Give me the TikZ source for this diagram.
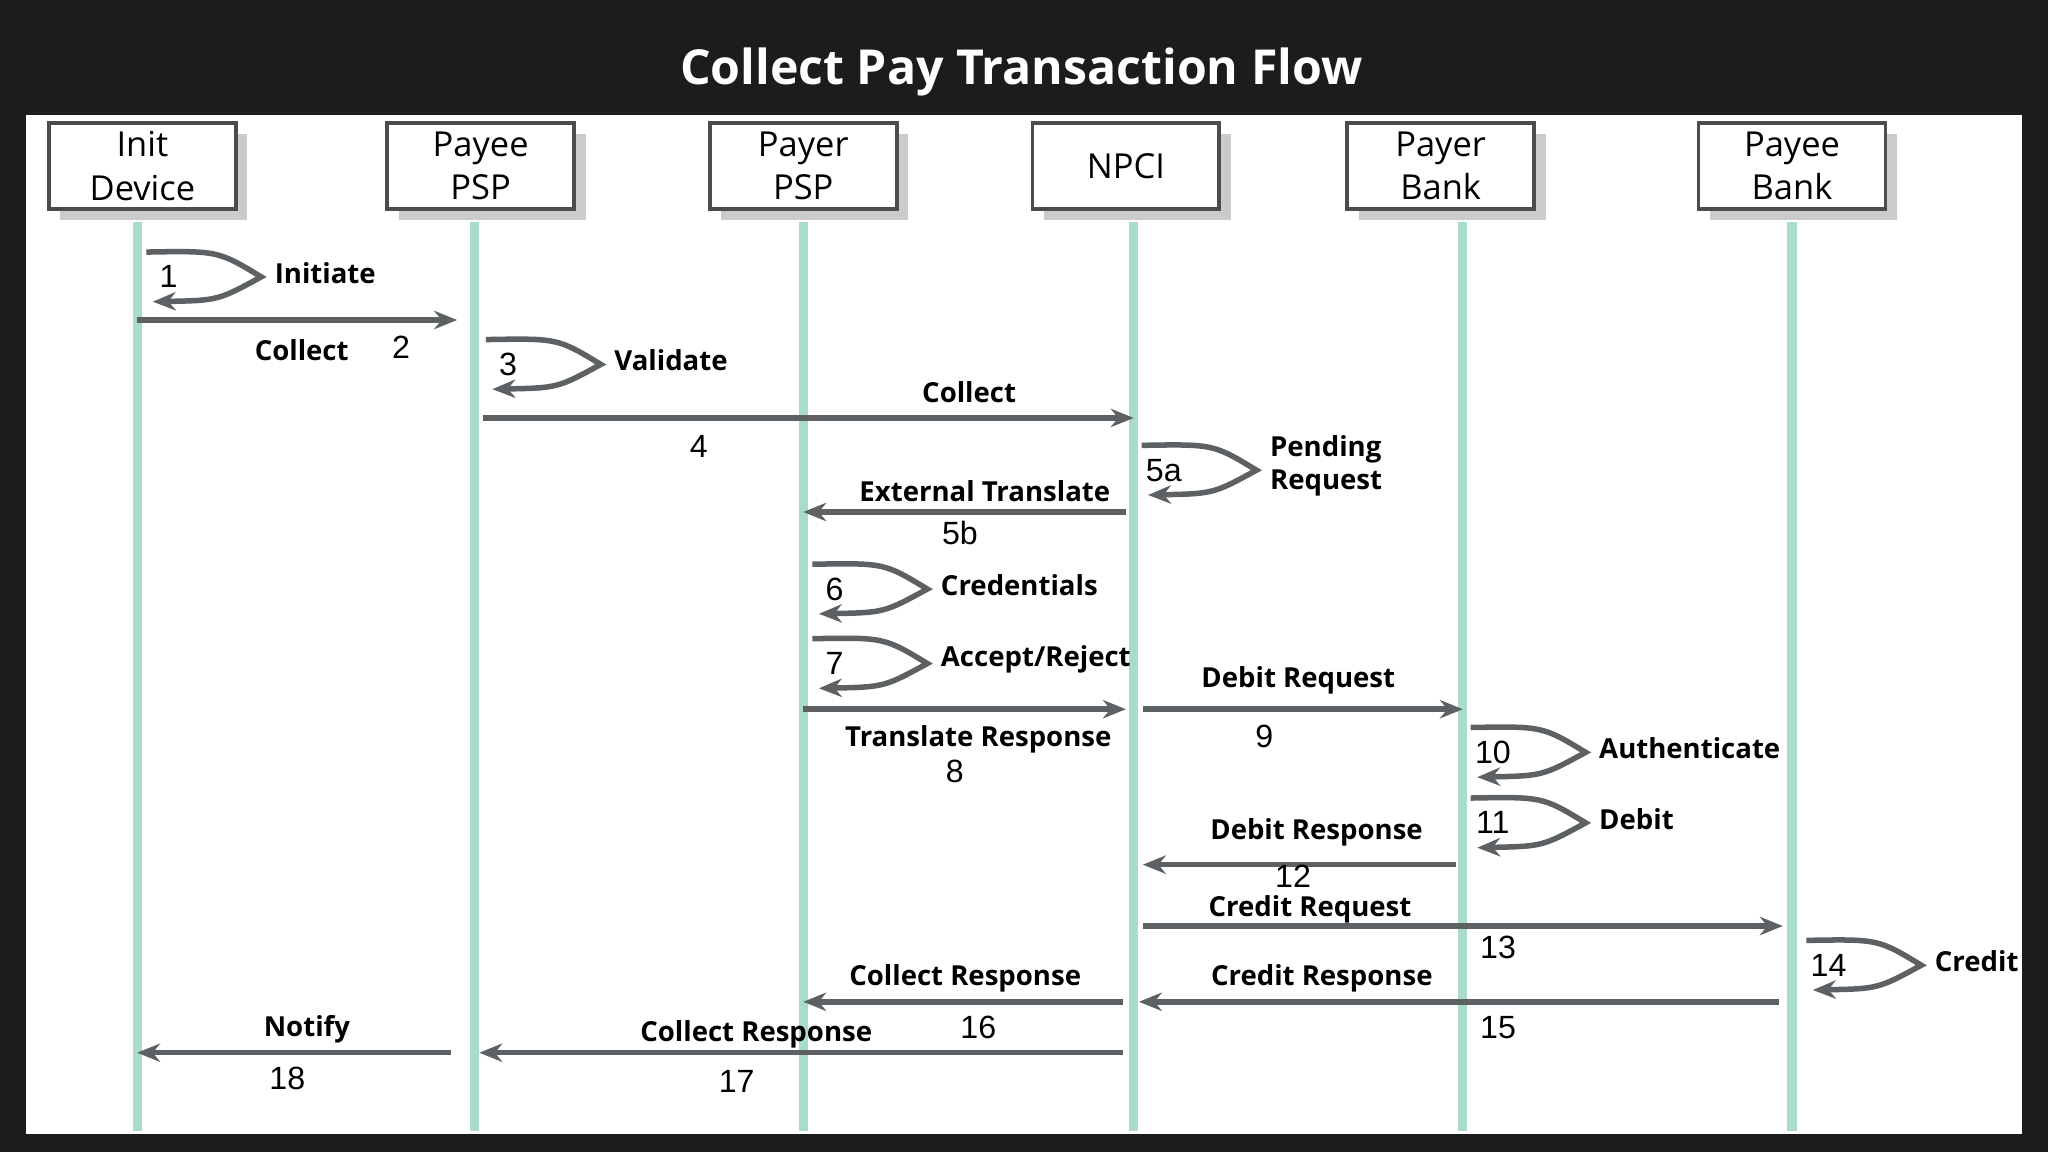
\documentclass[tikz,border=0pt]{standalone}
\usepackage{fontspec}
\setsansfont{Open Sans}
\newfontfamily\numfont{Liberation Sans}
\usetikzlibrary{arrows.meta,shadows}
\definecolor{board}{HTML}{1C1C1C}
\definecolor{life}{HTML}{A9DCC9}
\definecolor{arr}{HTML}{5E6163}
\tikzset{
  head/.style={draw=black!70,thick,fill=white,minimum width=1.43cm,minimum height=0.66cm,
    align=center,inner sep=1pt,font=\sffamily\fontsize{7.5}{9.5}\selectfont,
    drop shadow={shadow xshift=2.5pt,shadow yshift=-2.5pt,fill=black!25,opacity=.8}},
  msg/.style={arr,line width=1.2pt,-{Stealth[length=5pt,width=4pt]}},
  lbl/.style={font=\sffamily\bfseries\fontsize{6}{7.2}\selectfont,align=left},
  num/.style={font=\numfont\fontsize{7}{8}\selectfont}
}
\begin{document}
\begin{tikzpicture}[x=0.01cm,y=-0.01cm]
  \useasboundingbox (0,0) rectangle (1568,882);
  \fill[board] (0,0) rectangle (1568,882);
  \fill[white] (20,88) rectangle (1548,868);
  \node[white,font=\sffamily\bfseries\fontsize{10.5}{12}\selectfont] (title) at (782,55) {Collect Pay Transaction Flow};

  % Lifelines
  \foreach \a/\b in {L1/105,L2/363,L3/615,L4/868,L5/1120,L6/1372}{
    \coordinate (\a) at (\b,170);
    \draw[life,line width=2pt] (\a) -- (\b,866);
  }

  % Heads
  \node[head] (init)  at (109,127)  {Init\\Device};
  \node[head] (payee) at (368,127)  {Payee\\PSP};
  \node[head] (payer) at (615,127)  {Payer\\PSP};
  \node[head] (npci)  at (862,127)  {NPCI};
  \node[head] (pbank) at (1103,127) {Payer\\Bank};
  \node[head] (ebank) at (1372,127) {Payee\\Bank};

  % Self loops
  \foreach \lx/\ly/\n/\t in {112/212/1/Initiate,372/279/3/Validate,874/360/5a/{Pending\\Request},
      622/451/6/Credentials,622/508/7/{Accept/Reject},1126/576/10/Authenticate,
      1126/630/11/Debit,1383/739/14/Credit}{
    \draw[msg] (\lx,\ly-19) .. controls (\lx+55,\ly-20) .. (\lx+88,\ly)
      .. controls (\lx+55,\ly+18) .. (\lx+5,\ly+19);
    \node[num] at (\lx+17,\ly) {\n};
    \node[lbl,anchor=west] at (\lx+86,\ly-3) {\t};
  }

  % Messages
  \draw[msg] (L1 |- 0,245) -- (350,245);
  \node[lbl] at (231,268) {Collect};  \node[num] at (307,266) {2};
  \draw[msg] (370,320) -- (L4 |- 0,320);
  \node[lbl] at (742,300) {Collect};  \node[num] at (535,342) {4};
  \draw[msg] (862,392) -- (L3 |- 0,392);
  \node[lbl] at (754,376) {External Translate};  \node[num] at (735,408) {5b};
  \draw[msg] (L3 |- 0,543) -- (862,543);
  \node[lbl] at (749,566) {Translate Response};  \node[num] at (731,591) {8};
  \draw[msg] (875,543) -- (L5 |- 0,543);
  \node[lbl] at (994,521) {Debit Request};  \node[num] at (968,564) {9};
  \draw[msg] (1115,662) -- (875,662);
  \node[lbl] at (1008,637) {Debit Response};  \node[num] at (990,671) {12};
  \draw[msg] (875,709) -- (1365,709);
  \node[lbl] at (1003,696) {Credit Request};  \node[num] at (1147,725) {13};
  \draw[msg] (1362,767) -- (872,767);
  \node[lbl] at (1012,749) {Credit Response};  \node[num] at (1147,787) {15};
  \draw[msg] (860,767) -- (L3 |- 0,767);
  \node[lbl] at (739,749) {Collect Response};  \node[num] at (749,787) {16};
  \draw[msg] (860,806) -- (367,806);
  \node[lbl] at (579,792) {Collect Response};  \node[num] at (564,828) {17};
  \draw[msg] (345,806) -- (L1 |- 0,806);
  \node[lbl] at (235,788) {Notify};  \node[num] at (220,826) {18};
\end{tikzpicture}
\end{document}
